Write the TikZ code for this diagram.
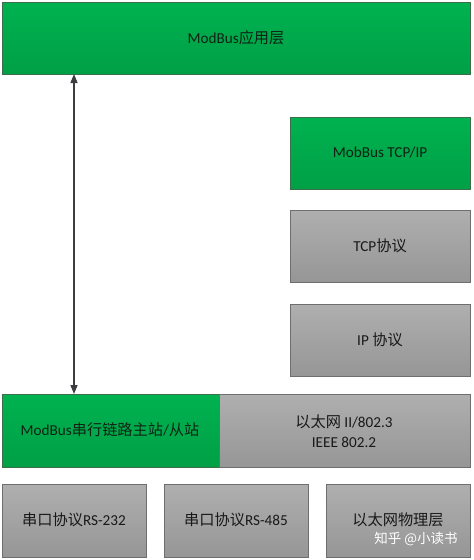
\documentclass[tikz,border=0pt]{standalone}
\usepackage{fontspec}
\usetikzlibrary{arrows.meta}
\setmainfont{Carlito}
\newfontfamily\cjk{Noto Sans CJK SC}
\definecolor{gtop}{RGB}{0,178,80}
\definecolor{gbot}{RGB}{0,160,70}
\definecolor{gline}{RGB}{60,110,75}
\definecolor{ytop}{RGB}{175,175,175}
\definecolor{ybot}{RGB}{150,150,150}
\definecolor{yline}{RGB}{110,110,110}
\definecolor{gtext}{RGB}{15,35,20}
\definecolor{ytext}{RGB}{25,25,25}
\definecolor{arrc}{RGB}{60,60,65}
\begin{document}
\begin{tikzpicture}[x=1pt,y=-1pt,
  greenbox/.style={draw=gline, line width=0.8pt, top color=gtop, bottom color=gbot},
  graybox/.style={draw=yline, line width=0.8pt, top color=ytop, bottom color=ybot},
  lbl/.style={font=\fontsize{15.2}{18}\selectfont, align=center},
  glbl/.style={lbl, text=gtext},
  ylbl/.style={lbl, text=ytext},
  arr/.style={{Triangle[length=9pt,width=7pt]}-{Triangle[length=9pt,width=7pt]}, line width=1.4pt, draw=arrc}]
\useasboundingbox (0,0) rectangle (474,560);
\fill[white] (0,0) rectangle (474,560);
% top
\path[greenbox] (2,2) rectangle (470,74);
\node[glbl] (app) at (236,38) {ModBus{\cjk 应用层}};
\coordinate (appb) at (74,74);
% right column
\path[greenbox] (290,117) rectangle (470,189);
\node[glbl] (tcpip) at (380,153) {MobBus TCP/IP};
\path[graybox] (290,210) rectangle (470,282);
\node[ylbl] (tcp) at (380,246) {TCP{\cjk 协议}};
\path[graybox] (290,304) rectangle (470,376);
\node[ylbl] (ip) at (380,340) {IP {\cjk 协议}};
% link layer row
\path[greenbox] (2,394) rectangle (219,467);
\path[graybox] (219,394) rectangle (470,467);
\node[glbl] (serial) at (110,430) {ModBus{\cjk 串行链路主站}/{\cjk 从站}};
\node[ylbl] (eth) at (344,431) {{\cjk 以太网} II/802.3\\[2pt]IEEE 802.2};
\coordinate (serialt) at (74,394);
% physical row
\path[graybox] (2,484) rectangle (146,557);
\node[ylbl] (rs232) at (74,520) {{\cjk 串口协议}RS-232};
\path[graybox] (164,484) rectangle (308,557);
\node[ylbl] (rs485) at (236,520) {{\cjk 串口协议}RS-485};
\path[graybox] (326,484) rectangle (470,557);
\node[ylbl] (ethphy) at (398,520) {{\cjk 以太网物理层}};
\node[font=\fontsize{13.5}{16}\selectfont, text=white] (wm) at (416,539) {{\cjk 知乎 @小读书}};
% arrow
\draw[arr] (appb) -- (serialt);
\end{tikzpicture}
\end{document}
